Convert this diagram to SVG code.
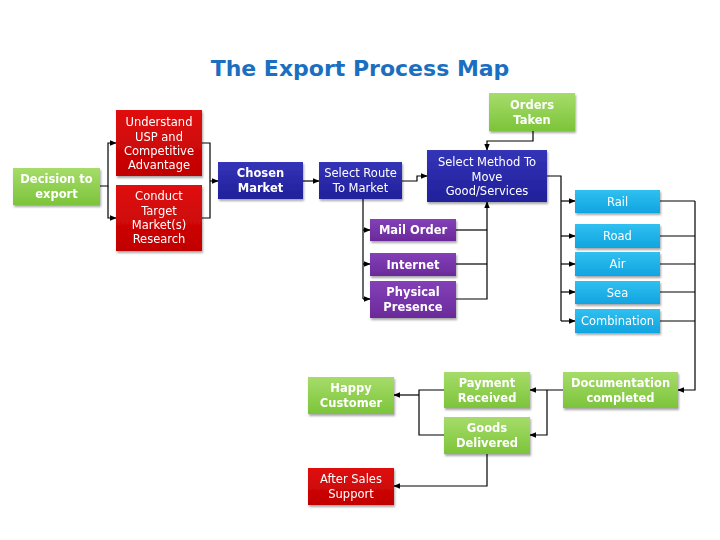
<svg xmlns="http://www.w3.org/2000/svg" width="720" height="540" viewBox="0 0 720 540">
<defs>
<linearGradient id="gG" x1="0" y1="0" x2="0" y2="1"><stop offset="0" stop-color="#a6dc6a"/><stop offset="1" stop-color="#7cc43a"/></linearGradient>
<linearGradient id="gR" x1="0" y1="0" x2="0" y2="1"><stop offset="0" stop-color="#e01010"/><stop offset="1" stop-color="#c00000"/></linearGradient>
<linearGradient id="gB" x1="0" y1="0" x2="0" y2="1"><stop offset="0" stop-color="#3434b8"/><stop offset="1" stop-color="#20209a"/></linearGradient>
<linearGradient id="gP" x1="0" y1="0" x2="0" y2="1"><stop offset="0" stop-color="#8440b8"/><stop offset="1" stop-color="#6a2a9a"/></linearGradient>
<linearGradient id="gC" x1="0" y1="0" x2="0" y2="1"><stop offset="0" stop-color="#30c0f0"/><stop offset="1" stop-color="#10a4e0"/></linearGradient>
<filter id="sh" x="-10%" y="-10%" width="130%" height="140%"><feDropShadow dx="1" dy="2" stdDeviation="1.2" flood-color="#000" flood-opacity="0.35"/></filter>
<marker id="ar" viewBox="0 0 10 10" refX="9" refY="5" markerWidth="6" markerHeight="6" orient="auto"><path d="M0,1 L10,5 L0,9 z" fill="#000"/></marker>
<style>
.n{filter:url(#sh)}
.t{font-family:"DejaVu Sans",Verdana,sans-serif;font-size:11.5px;fill:#fff;text-anchor:middle}
.b{font-weight:bold}
.c path{fill:none;stroke:#000;stroke-width:1.2}
.c .a{marker-end:url(#ar)}
</style>
</defs>
<rect width="720" height="540" fill="#fff"/>
<text x="360" y="76" font-family="DejaVu Sans,Verdana,sans-serif" font-size="22" font-weight="bold" fill="#1a6fc0" text-anchor="middle">The Export Process Map</text>
<g class="c" id="connectors">
<path d="M100,186 H108 V143 H116" class="a"/>
<path d="M108,186 V218 H116" class="a"/>
<path d="M201,143 H210 V218 H201"/>
<path d="M210,181 H218" class="a"/>
<path d="M303,181 H319" class="a"/>
<path d="M402,181 H417 V176 H427" class="a"/>
<path d="M533,131 V141 H487 V150" class="a"/>
<path d="M363,199 V299"/>
<path d="M363,230 H370" class="a"/>
<path d="M363,264 H370" class="a"/>
<path d="M363,299 H370" class="a"/>
<path d="M456,230 H487"/>
<path d="M456,264 H487"/>
<path d="M456,299 H487 V202" class="a"/>
<path d="M547,176 H561 V321"/>
<path d="M561,201 H575" class="a"/>
<path d="M561,236 H575" class="a"/>
<path d="M561,264 H575" class="a"/>
<path d="M561,292 H575" class="a"/>
<path d="M561,321 H575" class="a"/>
<path d="M660,201 H695"/>
<path d="M660,236 H695"/>
<path d="M660,264 H695"/>
<path d="M660,292 H695"/>
<path d="M660,321 H695"/>
<path d="M695,201 V390 H678" class="a"/>
<path d="M563,390 H530" class="a"/>
<path d="M547,390 V435 H530" class="a"/>
<path d="M444,390 H419 V435 H444"/>
<path d="M419,395 H394" class="a"/>
<path d="M487,454 V486 H394" class="a"/>
</g>
<g id="decision" class="n"><rect x="13" y="168" width="87" height="37" fill="url(#gG)"/><text class="t b" x="56.5" y="183">Decision to</text><text class="t b" x="56.5" y="198">export</text></g>
<g id="understand" class="n"><rect x="116" y="110" width="86" height="66" fill="url(#gR)"/><text class="t" x="159" y="126">Understand</text><text class="t" x="159" y="141">USP and</text><text class="t" x="159" y="155">Competitive</text><text class="t" x="159" y="169">Advantage</text></g>
<g id="conduct" class="n"><rect x="116" y="185" width="86" height="66" fill="url(#gR)"/><text class="t" x="159" y="200">Conduct</text><text class="t" x="159" y="215">Target</text><text class="t" x="159" y="229">Market(s)</text><text class="t" x="159" y="243">Research</text></g>
<g id="chosen" class="n"><rect x="218" y="162" width="85" height="37" fill="url(#gB)"/><text class="t b" x="260.5" y="177">Chosen</text><text class="t b" x="260.5" y="192">Market</text></g>
<g id="route" class="n"><rect x="319" y="162" width="83" height="37" fill="url(#gB)"/><text class="t" x="360.5" y="177">Select Route</text><text class="t" x="360.5" y="192">To Market</text></g>
<g id="method" class="n"><rect x="427" y="150" width="120" height="52" fill="url(#gB)"/><text class="t" x="487" y="166">Select Method To</text><text class="t" x="487" y="181">Move</text><text class="t" x="487" y="195">Good/Services</text></g>
<g id="orders" class="n"><rect x="489" y="93" width="86" height="38" fill="url(#gG)"/><text class="t b" x="532" y="109">Orders</text><text class="t b" x="532" y="124">Taken</text></g>
<g id="mail" class="n"><rect x="370" y="219" width="86" height="22" fill="url(#gP)"/><text class="t b" x="413" y="234">Mail Order</text></g>
<g id="internet" class="n"><rect x="370" y="253" width="86" height="23" fill="url(#gP)"/><text class="t b" x="413" y="269">Internet</text></g>
<g id="physical" class="n"><rect x="370" y="281" width="86" height="37" fill="url(#gP)"/><text class="t b" x="413" y="296">Physical</text><text class="t b" x="413" y="311">Presence</text></g>
<g id="rail" class="n"><rect x="575" y="190" width="85" height="23" fill="url(#gC)"/><text class="t" x="617.5" y="206">Rail</text></g>
<g id="road" class="n"><rect x="575" y="224" width="85" height="24" fill="url(#gC)"/><text class="t" x="617.5" y="240">Road</text></g>
<g id="air" class="n"><rect x="575" y="252" width="85" height="24" fill="url(#gC)"/><text class="t" x="617.5" y="268">Air</text></g>
<g id="sea" class="n"><rect x="575" y="281" width="85" height="23" fill="url(#gC)"/><text class="t" x="617.5" y="297">Sea</text></g>
<g id="combination" class="n"><rect x="575" y="309" width="85" height="24" fill="url(#gC)"/><text class="t" x="617.5" y="325">Combination</text></g>
<g id="documentation" class="n"><rect x="563" y="372" width="115" height="36" fill="url(#gG)"/><text class="t b" x="620.5" y="387">Documentation</text><text class="t b" x="620.5" y="402">completed</text></g>
<g id="payment" class="n"><rect x="444" y="372" width="86" height="36" fill="url(#gG)"/><text class="t b" x="487" y="387">Payment</text><text class="t b" x="487" y="402">Received</text></g>
<g id="goods" class="n"><rect x="444" y="417" width="86" height="37" fill="url(#gG)"/><text class="t b" x="487" y="432">Goods</text><text class="t b" x="487" y="447">Delivered</text></g>
<g id="happy" class="n"><rect x="308" y="377" width="86" height="37" fill="url(#gG)"/><text class="t b" x="351" y="392">Happy</text><text class="t b" x="351" y="407">Customer</text></g>
<g id="aftersales" class="n"><rect x="308" y="468" width="86" height="37" fill="url(#gR)"/><text class="t" x="351" y="483">After Sales</text><text class="t" x="351" y="498">Support</text></g>
</svg>
